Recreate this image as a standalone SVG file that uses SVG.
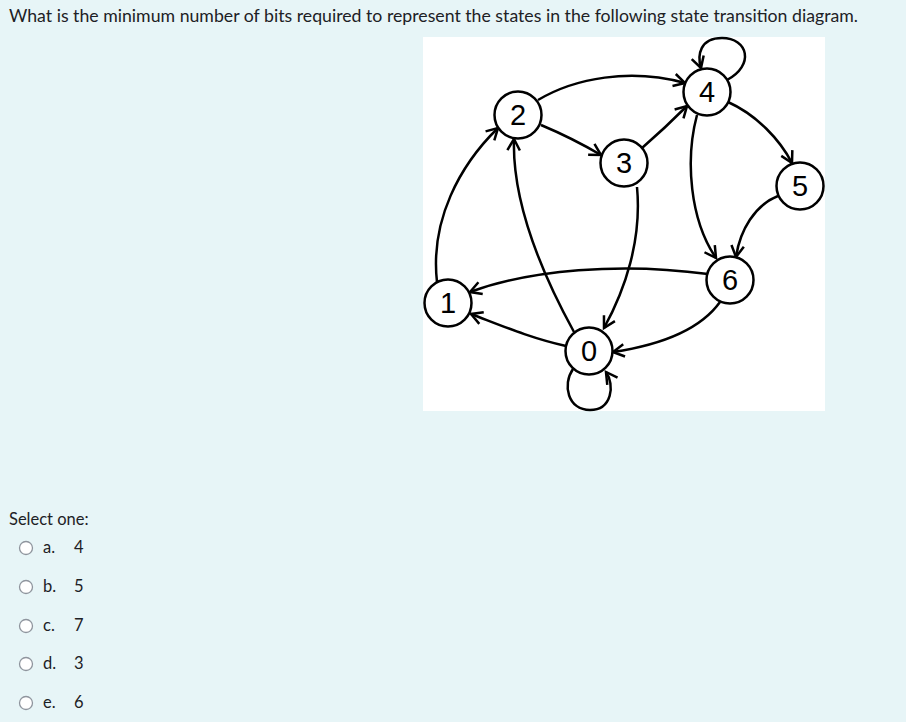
<svg xmlns="http://www.w3.org/2000/svg" width="906" height="722" viewBox="0 0 906 722">
<defs>
<marker id="arr" markerUnits="userSpaceOnUse" markerWidth="20" markerHeight="20" refX="0" refY="0" viewBox="-12 -8 14 16" orient="auto">
<path d="M -9 -5 L 0 0 L -9 5" fill="none" stroke="#000" stroke-width="2" stroke-linejoin="miter"/>
</marker>
<style>
.q{font-family:Lato,"Liberation Sans",sans-serif;font-size:16.5px;fill:#1d2125}
.n circle{fill:#fff;stroke:#000;stroke-width:2.5}
.n text{font-family:"Liberation Sans",Arial,sans-serif;font-size:29px;fill:#000;text-anchor:middle}
.e path{fill:none;stroke:#000;stroke-width:2.5;marker-end:url(#arr)}
.r{fill:#fff;stroke:#8f959e;stroke-width:1.3}
</style>
</defs>
<rect width="906" height="722" fill="#e7f5f7"/>
<text class="q" x="9" y="22" textLength="849" lengthAdjust="spacingAndGlyphs">What is the minimum number of bits required to represent the states in the following state transition diagram.</text>
<rect x="423" y="37" width="402" height="374" fill="#fff"/>
<g class="e" id="connectors">
<path d="M 437 282 C 430 220, 460 165, 498 128"/>
<path d="M 574 332 C 540 270, 512 200, 514 139"/>
<path d="M 538 100 C 575 78, 630 68, 685 83"/>
<path d="M 541 125 Q 572 138, 601 155"/>
<path d="M 642 148 Q 665 128, 687 106"/>
<path d="M 727 80 C 755 65, 748 38, 722 38 C 700 38, 697 55, 701 68"/>
<path d="M 728 102 C 757 115, 780 140, 792 163"/>
<path d="M 697 115 C 685 160, 690 220, 716 258"/>
<path d="M 778 196 C 755 205, 740 230, 736 257"/>
<path d="M 637 187 C 642 240, 625 290, 604 328"/>
<path d="M 708 274 C 620 262, 530 270, 470 292"/>
<path d="M 720 302 C 700 330, 660 345, 613 352"/>
<path d="M 566 346 C 530 338, 500 325, 471 314"/>
<path d="M 573 369 C 562 385, 568 410, 590 410 C 612 410, 615 385, 606 372"/>
</g>
<g class="n" id="node0"><circle cx="589" cy="351" r="23.5"/><text x="589" y="361">0</text></g>
<g class="n" id="node1"><circle cx="448" cy="303" r="23.5"/><text x="448" y="313">1</text></g>
<g class="n" id="node2"><circle cx="518" cy="115" r="23.5"/><text x="518" y="125">2</text></g>
<g class="n" id="node3"><circle cx="624" cy="163" r="23.5"/><text x="624" y="173">3</text></g>
<g class="n" id="node4"><circle cx="707" cy="92" r="23.5"/><text x="707" y="102">4</text></g>
<g class="n" id="node5"><circle cx="800" cy="186" r="23.5"/><text x="800" y="196">5</text></g>
<g class="n" id="node6"><circle cx="730" cy="280" r="23.5"/><text x="730" y="290">6</text></g>
<text class="q" x="9" y="525">Select one:</text>
<circle class="r" cx="26" cy="548" r="6.5"/><text class="q" x="43" y="553">a.</text><text class="q" x="74" y="553">4</text>
<circle class="r" cx="26" cy="587" r="6.5"/><text class="q" x="43" y="592">b.</text><text class="q" x="74" y="592">5</text>
<circle class="r" cx="26" cy="626" r="6.5"/><text class="q" x="43" y="631">c.</text><text class="q" x="74" y="631">7</text>
<circle class="r" cx="26" cy="664" r="6.5"/><text class="q" x="43" y="669">d.</text><text class="q" x="74" y="669">3</text>
<circle class="r" cx="26" cy="703" r="6.5"/><text class="q" x="43" y="708">e.</text><text class="q" x="74" y="708">6</text>
</svg>
